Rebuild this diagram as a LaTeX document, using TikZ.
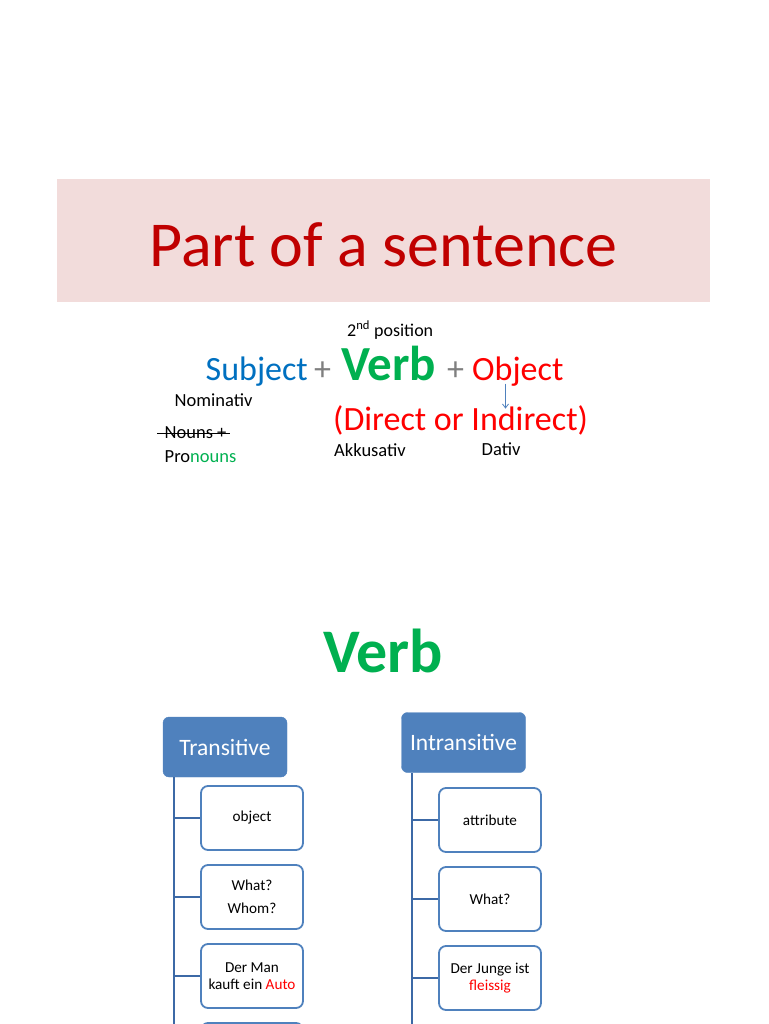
\documentclass[tikz,border=0pt]{standalone}
\usepackage{fontspec}
\setmainfont{Carlito}
\usepackage{xcolor}
\usetikzlibrary{arrows.meta,calc}

\definecolor{bandpink}{HTML}{F2DCDB}
\definecolor{titlered}{HTML}{C00000}
\definecolor{subjblue}{HTML}{0070C0}
\definecolor{verbgreen}{HTML}{00B050}
\definecolor{objred}{HTML}{FF0000}
\definecolor{plusgray}{HTML}{7F7F7F}
\definecolor{boxblue}{HTML}{4F81BD}
\definecolor{treeblue}{HTML}{3C69A6}

\begin{document}
\begin{tikzpicture}[
  x=1pt, y=-1pt,
  txt/.style={inner sep=0pt, anchor=base west},
  big/.style={txt, font=\fontsize{34}{40}\selectfont},
  small/.style={txt, font=\fontsize{18.5}{22}\selectfont},
  head/.style={draw=boxblue, fill=boxblue, rounded corners=6pt,
               minimum width=124pt, minimum height=60pt,
               text=white, font=\fontsize{23.5}{28}\selectfont},
  leaf/.style={draw=boxblue, line width=1.8pt, fill=white, rounded corners=7pt,
               minimum width=102pt, minimum height=64pt, align=center,
               font=\fontsize{15.2}{16.7}\selectfont},
  branch/.style={draw=treeblue, line width=1.8pt},
  arr/.style={draw=boxblue, line width=0.8pt, -{Straight Barb[length=4pt,width=6pt]}},
]
\useasboundingbox (0,0) rectangle (768,1024);

% --- title band ---
\fill[bandpink] (57,179) rectangle (710,302);
\node[inner sep=0pt, anchor=base, text=titlered, font=\fontsize{64}{70}\selectfont]
  (title) at (383.5,266.7) {Part of a sentence};

% --- sentence parts ---
\node[small, font=\fontsize{18}{22}\selectfont] (pos) at (347,336) {2\textsuperscript{nd} position};
\node[big, text=subjblue] (subj) at (205.5,380.5) {Subject};
\node[big, text=plusgray] (plusA) at (314,380.5) {+};
\node[txt, text=verbgreen, font=\fontsize{49}{55}\selectfont\bfseries] (verb) at (341,380.5) {Verb};
\node[big, text=plusgray] (plusB) at (447,380.5) {+};
\node[big, text=objred] (obj) at (472,380.5) {Object};
\node[big, text=objred] (dir) at (333,430.7) {(Direct or Indirect)};

\node[small] (nom) at (174.5,406.7) {Nominativ};
\node[small] (nouns) at (164.5,438) {Nouns +};
\node[small] (pron) at (164.5,462) {Pro\textcolor{verbgreen}{nouns}};
\node[small] (akk) at (334,456.7) {Akkusativ};
\node[small] (dat) at (481.5,455) {Dativ};

% strike through "Nouns +"
\draw[line width=0.9pt] ($(nouns.west)+(-7.5,1.5)$) -- ($(nouns.east)+(3,1.5)$);
% Object -> (Direct or Indirect)
\draw[arr, shorten <=-3pt, shorten >=-3pt] (obj.south -| 505.5,0) -- (dir.north -| 505.5,0);

% --- verb tree ---
\node[inner sep=0pt, anchor=base, text=verbgreen, font=\fontsize{62}{70}\selectfont\bfseries]
  (verbT) at (383,672) {Verb};

\node[head] (tr) at (225,747) {Transitive};
\node[head] (in) at (463.5,742.5) {Intransitive};

\node[leaf] (tr1) at (252,818) {object};
\node[leaf] (tr2) at (252,897) {What?\\[6.3pt]Whom?};
\node[leaf] (tr3) at (252,976) {Der Man\\kauft ein \textcolor{objred}{Auto}};
\node[leaf] (tr4) at (252,1055) {};

\node[leaf] (in1) at (490,820) {attribute};
\node[leaf] (in2) at (490,899) {What?};
\node[leaf] (in3) at (490,978) {Der Junge ist\\\textcolor{objred}{fleissig}};
\node[leaf] (in4) at (490,1057) {};

\coordinate (trTop) at (174,777);
\coordinate (inTop) at (412,773);
\draw[branch] (trTop) -- (trTop |- tr4.center);
\draw[branch] (inTop) -- (inTop |- in4.center);
\foreach \k in {1,2,3,4} {
  \draw[branch] (trTop |- tr\k.west) -- (tr\k.west);
  \draw[branch] (inTop |- in\k.west) -- (in\k.west);
}
\end{tikzpicture}
\end{document}
